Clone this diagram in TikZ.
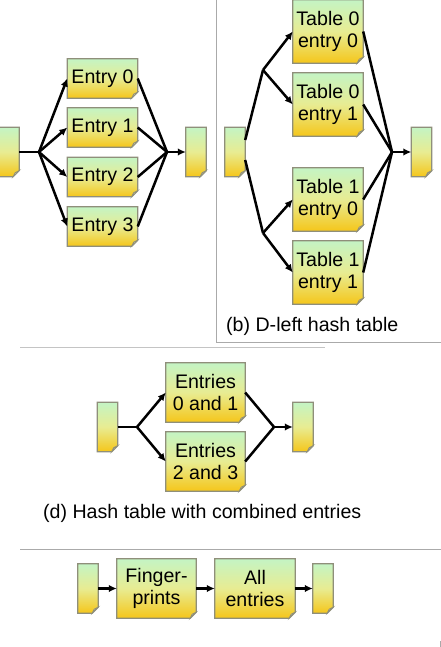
\documentclass[tikz,border=0pt]{standalone}
\usepackage{fontspec}
\setmainfont{Liberation Sans}
\usetikzlibrary{arrows.meta,backgrounds}

\definecolor{notetop}{RGB}{196,244,196}
\definecolor{notemid}{RGB}{232,236,146}
\definecolor{notebot}{RGB}{245,198,26}
\definecolor{noteline}{RGB}{143,143,122}
\definecolor{notefold}{RGB}{250,242,196}
\definecolor{sepgray}{RGB}{170,170,170}

\tikzset{
  note/.style={rectangle, inner sep=0pt, align=center, minimum width=70pt, minimum height=39pt,
    font=\fontsize{19.6}{22}\selectfont},
  tallnote/.style={note, minimum height=63pt},
  widenote/.style={note, minimum width=79pt, minimum height=59pt},
  pad/.style={rectangle, inner sep=0pt, minimum width=20pt, minimum height=49pt},
  arr/.style={-{Latex[length=8pt,width=7.5pt]}, line width=2.5pt},
  wire/.style={line width=2.5pt},
  sepline/.style={sepgray, line width=1pt},
  caption/.style={anchor=base west, inner sep=0pt, font=\fontsize{19.6}{22}\selectfont}
}

\newcommand{\notebody}[1]{%
  \shade[top color=notetop, bottom color=notebot, middle color=notemid, draw=noteline, line width=1.2pt]
    (#1.north west) -- (#1.north east) -- ([yshift=6pt]#1.south east)
    -- ([xshift=-6pt]#1.south east) -- (#1.south west) -- cycle;
  \filldraw[fill=notefold, draw=noteline, line width=0.8pt]
    ([yshift=6pt]#1.south east) -- ([xshift=-6pt]#1.south east)
    -- ([xshift=-4pt,yshift=4pt]#1.south east) -- cycle;
}

\begin{document}
\begin{tikzpicture}[x=1pt,y=-1pt]
\useasboundingbox (0,0) rectangle (441,647);

% separators
\draw[sepline] (216,0) -- (216,342) -- (441,342);
\draw[sepline, sepgray!70] (20,347) -- (325,347);
\draw[sepline] (20,549) -- (441,549);
\draw[sepline] (440,641) -- (440,647);

% (a) hash table
\node[pad] (a_in) at (9,152) {};
\coordinate (a_sp) at (39,152);
\node[note] (a_e0) at (102.5,78.5) {Entry 0};
\node[note] (a_e1) at (102.5,127.5) {Entry 1};
\node[note] (a_e2) at (102.5,177) {Entry 2};
\node[note] (a_e3) at (102.5,226.5) {Entry 3};
\coordinate (a_mg) at (167,152);
\node[pad] (a_out) at (196,152) {};
\draw[wire] (a_in.east) -- (a_sp);
\foreach \n in {a_e0,a_e1,a_e2,a_e3} {
  \draw[arr] (a_sp) -- (\n.west);
  \draw[wire] (\n.east) -- (a_mg);
}
\draw[arr] (a_mg) -- (a_out.west);

% (b) d-left hash table
\node[pad] (b_in) at (235,152) {};
\coordinate (b_sp0) at (263,70);
\coordinate (b_sp1) at (263,233);
\node[tallnote] (b_t00) at (328,31.5) {Table 0\\entry 0};
\node[tallnote] (b_t01) at (328,104.5) {Table 0\\entry 1};
\node[tallnote] (b_t10) at (328,199.5) {Table 1\\entry 0};
\node[tallnote] (b_t11) at (328,272.5) {Table 1\\entry 1};
\coordinate (b_mg) at (392,152);
\node[pad] (b_out) at (421.5,152) {};
\draw[wire] ([yshift=12pt]b_in.east) -- (b_sp0);
\draw[wire] ([yshift=-8pt]b_in.east) -- (b_sp1);
\draw[arr] (b_sp0) -- (b_t00.west);
\draw[arr] (b_sp0) -- (b_t01.west);
\draw[arr] (b_sp1) -- (b_t10.west);
\draw[arr] (b_sp1) -- (b_t11.west);
\foreach \n in {b_t00,b_t01,b_t10,b_t11}
  \draw[wire] (\n.east) -- (b_mg);
\draw[arr] (b_mg) -- (b_out.west);
\node[caption] (b_cap) at (226,331) {(b) D-left hash table};

% (d) combined entries
\node[pad] (d_in) at (107.5,427) {};
\coordinate (d_sp) at (137,427);
\node[widenote] (d_e01) at (205.5,392.5) {Entries\\0 and 1};
\node[widenote] (d_e23) at (205.5,461.5) {Entries\\2 and 3};
\coordinate (d_mg) at (274,427);
\node[pad] (d_out) at (303,427) {};
\draw[wire] (d_in.east) -- (d_sp);
\draw[arr] (d_sp) -- (d_e01.west);
\draw[arr] (d_sp) -- (d_e23.west);
\draw[wire] (d_e01.east) -- (d_mg);
\draw[wire] (d_e23.east) -- (d_mg);
\draw[arr] (d_mg) -- (d_out.west);
\node[caption] (d_cap) at (43,518) {(d) Hash table with combined entries};

% fingerprints
\node[pad] (e_in) at (88,588.5) {};
\node[widenote] (e_fp) at (156.5,588.5) {Finger-\\prints};
\node[widenote, minimum width=80pt] (e_all) at (255,588.5) {All\\entries};
\node[pad] (e_out) at (323,588.5) {};
\draw[arr] (e_in.east) -- (e_fp.west);
\draw[arr] (e_fp.east) -- (e_all.west);
\draw[arr] (e_all.east) -- (e_out.west);

\begin{pgfonlayer}{background}
\foreach \n in {a_in,a_e0,a_e1,a_e2,a_e3,a_out,b_in,b_t00,b_t01,b_t10,b_t11,b_out,
                d_in,d_e01,d_e23,d_out,e_in,e_fp,e_all,e_out} {
  \notebody{\n}
}
\end{pgfonlayer}
\end{tikzpicture}
\end{document}
